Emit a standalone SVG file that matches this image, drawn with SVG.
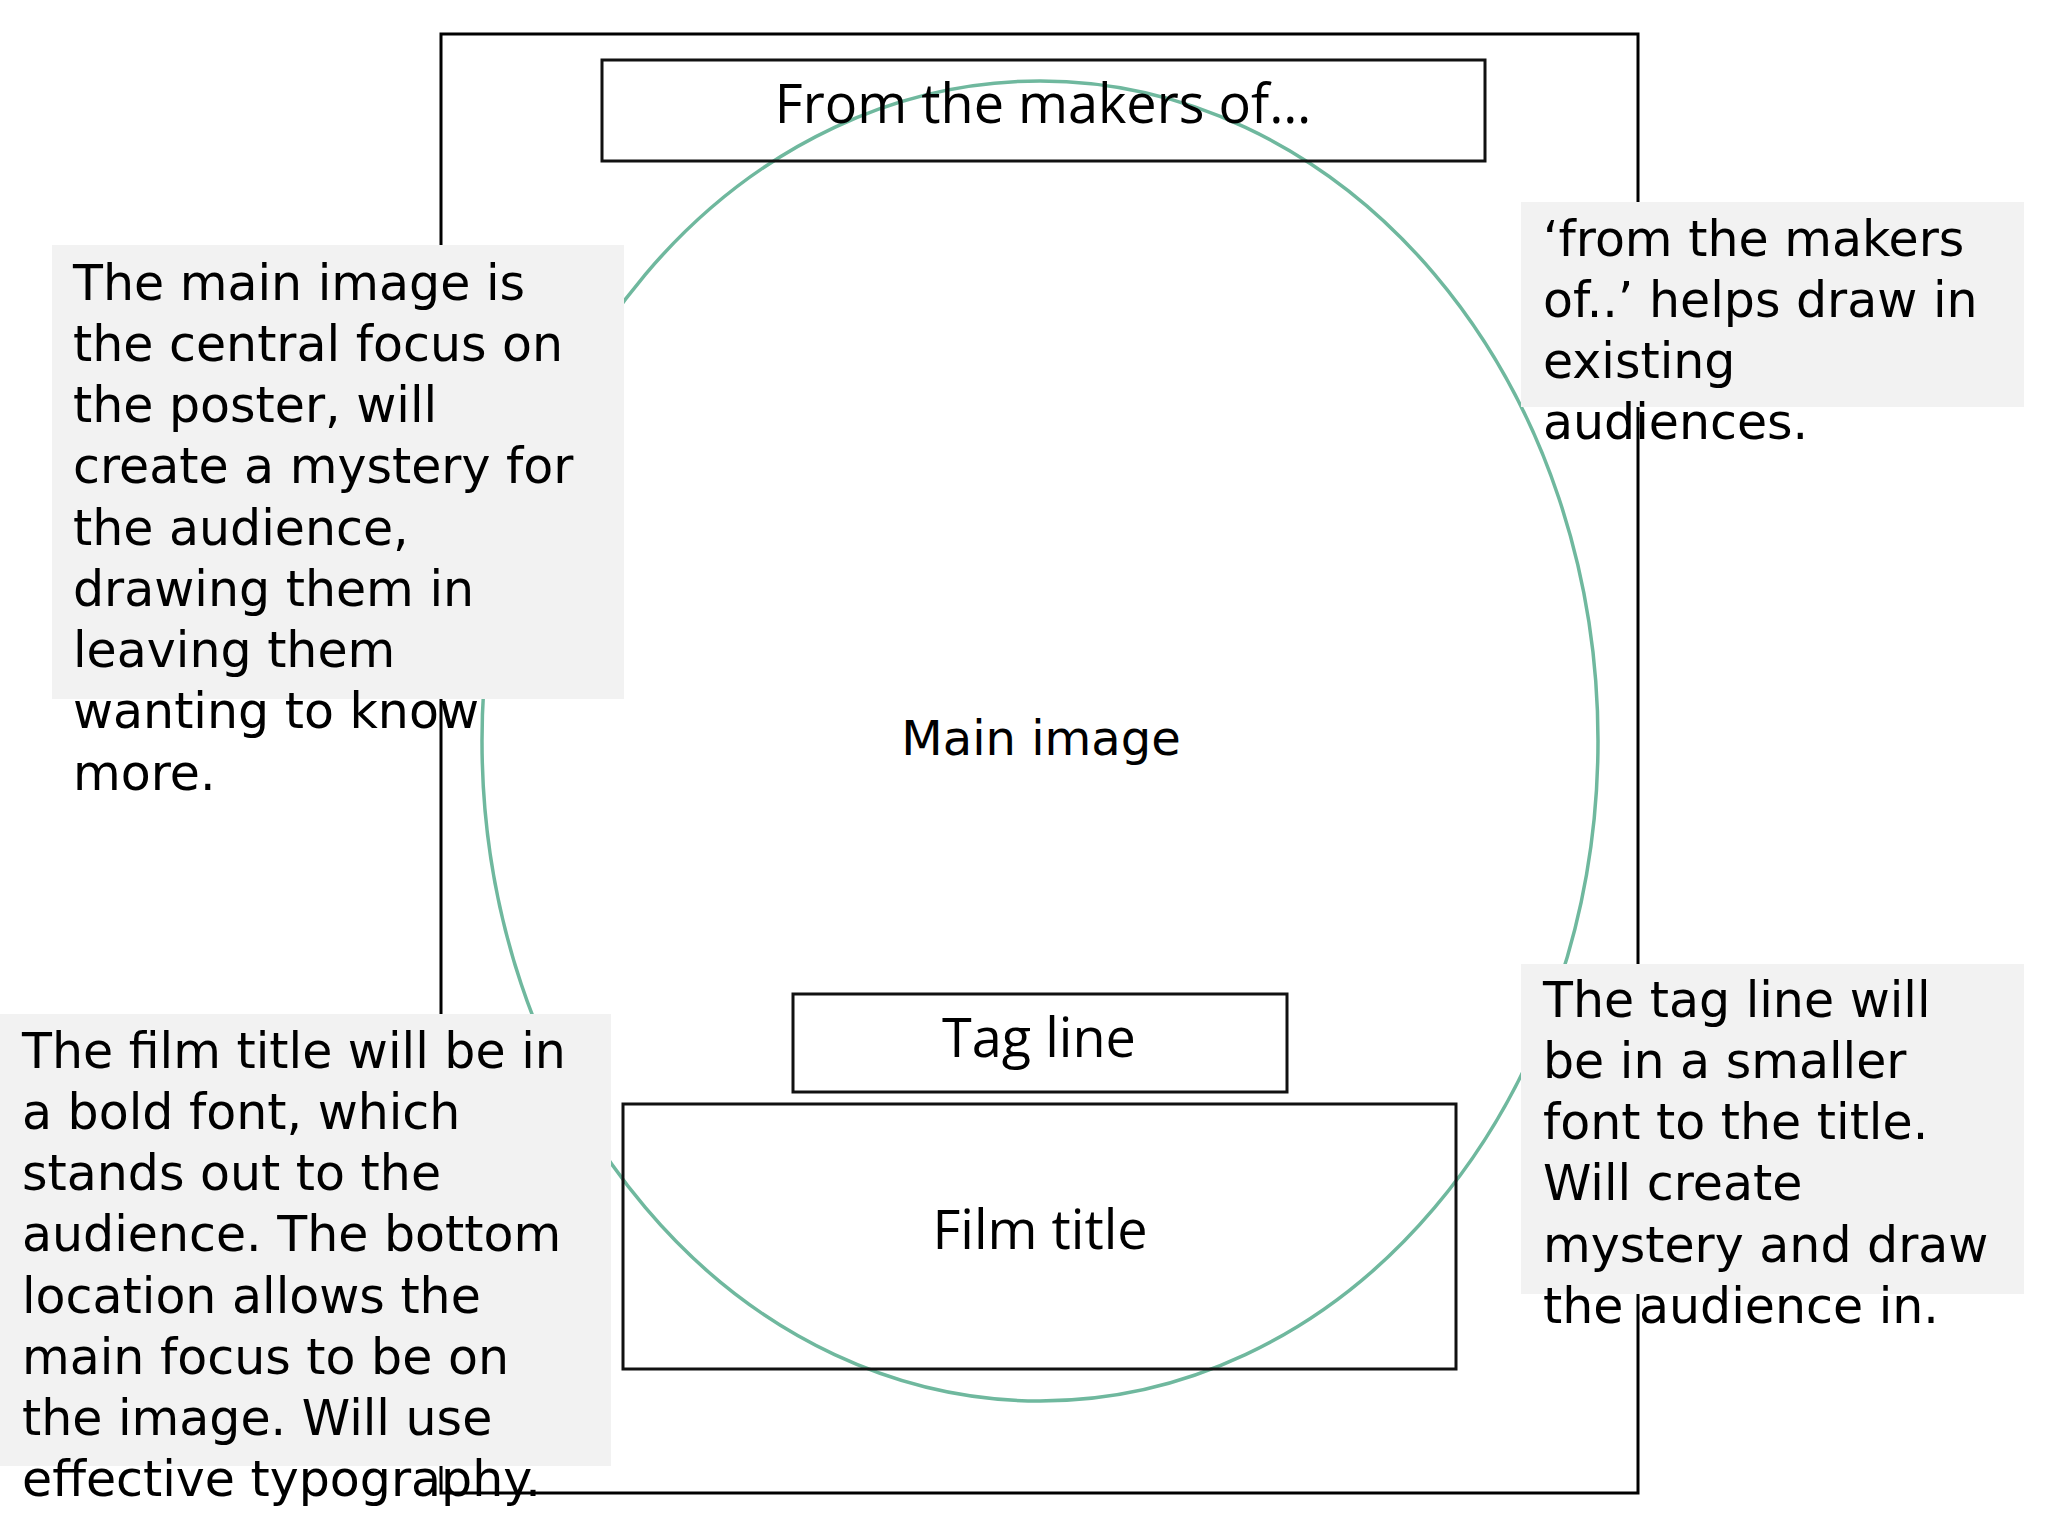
<svg xmlns="http://www.w3.org/2000/svg" width="2048" height="1536" viewBox="0 0 2048 1536">
<style>
.frame{fill:none;stroke:#000;stroke-width:3}
.box{fill:none;stroke:#111;stroke-width:3}
.oval{fill:none;stroke:#6fb89e;stroke-width:3.5}
.note{fill:#f2f2f2;stroke:none}
.lbl{font-family:"Open Sans","Noto Sans",sans-serif;font-size:54px;fill:#000;text-anchor:middle}
.nt{font-family:"DejaVu Sans","Liberation Sans",sans-serif;font-size:49px;fill:#000}
.mid{font-family:"DejaVu Sans","Liberation Sans",sans-serif;font-size:48px;fill:#000;text-anchor:middle}
</style>
<rect width="2048" height="1536" fill="#fff"/>
<g id="poster-frame"><rect class="frame" x="441" y="34" width="1197" height="1459"/></g>
<g id="main-image"><ellipse class="oval" cx="1040" cy="741" rx="558" ry="660"/><text class="mid" x="1041" y="755">Main image</text></g>
<g id="makers-box"><rect class="box" x="602" y="60" width="883" height="101"/><text class="lbl" x="1043" y="123">From the makers of…</text></g>
<g id="tagline-box"><rect class="box" x="793" y="994" width="494" height="98"/><text class="lbl" x="1039" y="1057">Tag line</text></g>
<g id="title-box"><rect class="box" x="623" y="1104" width="833" height="265"/><text class="lbl" x="1040" y="1249">Film title</text></g>
<g id="connectors"></g>
<g id="note-main-image">
<rect class="note" x="52" y="245" width="572" height="454"/>
<text class="nt" x="73"><tspan x="73" y="300">The main image is</tspan><tspan x="73" y="361">the central focus on</tspan><tspan x="73" y="422">the poster, will</tspan><tspan x="73" y="483">create a mystery for</tspan><tspan x="73" y="545">the audience,</tspan><tspan x="73" y="606">drawing them in</tspan><tspan x="73" y="667">leaving them</tspan><tspan x="73" y="728">wanting to know</tspan><tspan x="73" y="790">more.</tspan></text>
</g>
<g id="note-makers">
<rect class="note" x="1521" y="202" width="503" height="205"/>
<text class="nt"><tspan x="1543" y="256">‘from the makers</tspan><tspan x="1543" y="317">of..’ helps draw in</tspan><tspan x="1543" y="378">existing</tspan><tspan x="1543" y="439">audiences.</tspan></text>
</g>
<g id="note-title">
<rect class="note" x="0" y="1014" width="611" height="452"/>
<text class="nt"><tspan x="22" y="1068">The film title will be in</tspan><tspan x="22" y="1129">a bold font, which</tspan><tspan x="22" y="1190">stands out to the</tspan><tspan x="22" y="1251">audience. The bottom</tspan><tspan x="22" y="1313">location allows the</tspan><tspan x="22" y="1374">main focus to be on</tspan><tspan x="22" y="1435">the image. Will use</tspan><tspan x="22" y="1496">effective typography.</tspan></text>
</g>
<g id="note-tagline">
<rect class="note" x="1521" y="964" width="503" height="330"/>
<text class="nt"><tspan x="1543" y="1017">The tag line will</tspan><tspan x="1543" y="1078">be in a smaller</tspan><tspan x="1543" y="1139">font to the title.</tspan><tspan x="1543" y="1200">Will create</tspan><tspan x="1543" y="1262">mystery and draw</tspan><tspan x="1543" y="1323">the audience in.</tspan></text>
</g>
</svg>
